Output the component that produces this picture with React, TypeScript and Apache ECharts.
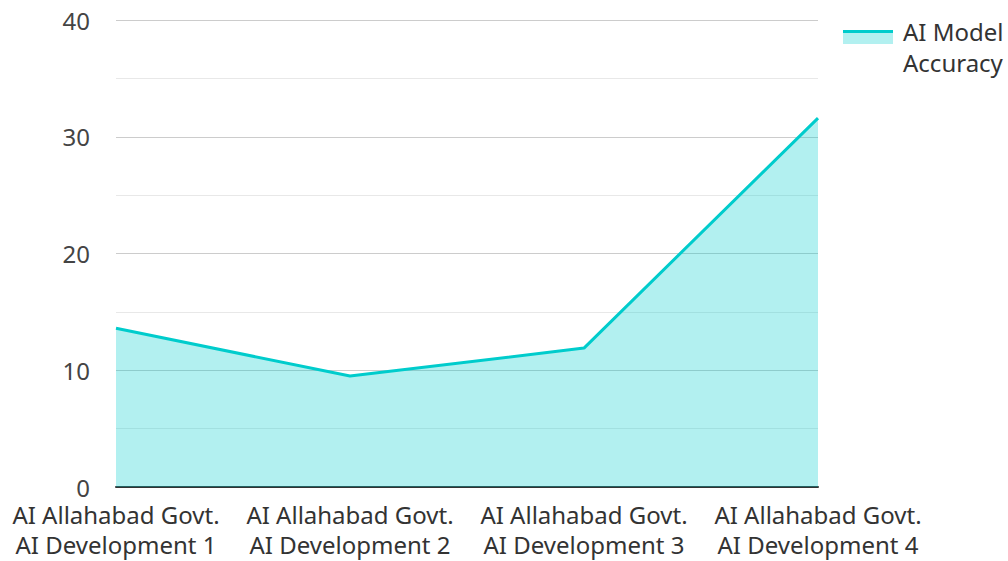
import React, { useEffect, useRef } from "react";
import * as echarts from "echarts";

const categories = [
  "AI Allahabad Govt.\nAI Development 1",
  "AI Allahabad Govt.\nAI Development 2",
  "AI Allahabad Govt.\nAI Development 3",
  "AI Allahabad Govt.\nAI Development 4",
];
const accuracy = [13.6, 9.5, 11.9, 31.6];
const seriesName = "AI Model\nAccuracy";

const FONT = "'Noto Sans', 'Open Sans', sans-serif";

export default function App() {
  const ref = useRef<HTMLDivElement>(null);
  useEffect(() => {
    if (!ref.current) return;
    const chart = echarts.init(ref.current, undefined, { renderer: "svg" });
    chart.setOption({
      animation: false,
      grid: { left: 116, right: 190, top: 20, bottom: 74 },
      xAxis: {
        type: "category",
        data: categories,
        boundaryGap: false,
        axisLine: { lineStyle: { color: "#333", width: 2 } },
        axisTick: { show: false },
        axisLabel: {
          color: "#333",
          fontSize: 24,
          fontFamily: FONT,
          lineHeight: 29.5,
          margin: 13,
          interval: 0,
        },
      },
      yAxis: {
        type: "value",
        min: 0,
        max: 40,
        interval: 10,
        axisLine: { show: false },
        axisTick: { show: false },
        axisLabel: { color: "#444", fontSize: 24, fontFamily: FONT, margin: 26, lineHeight: 22 },
        splitLine: { lineStyle: { color: "#cccccc", width: 1 } },
        minorTick: { show: false, splitNumber: 2 },
        minorSplitLine: { show: true, lineStyle: { color: "#e8e8e8", width: 1 } },
      },
      series: [
        {
          type: "line",
          name: seriesName,
          data: accuracy,
          symbol: "none",
          lineStyle: { color: "#00cccc", width: 3 },
          areaStyle: { color: "#00cccc", opacity: 0.3 },
          z: 3,
        },
      ],
      graphic: [
        {
          type: "rect",
          shape: { x: 843, y: 31, width: 50, height: 13 },
          style: { fill: "#b2f0f0" },
        },
        {
          type: "line",
          shape: { x1: 843, y1: 31.5, x2: 893, y2: 31.5 },
          style: { stroke: "#00cccc", lineWidth: 3 },
        },
        {
          type: "text",
          x: 903,
          y: 15.5,
          style: {
            text: seriesName,
            fill: "#333",
            font: `24px ${FONT}`,
            lineHeight: 31,
          },
        },
      ],
    });
    return () => chart.dispose();
  }, []);
  return <div ref={ref} style={{ width: 1008, height: 561, position: "absolute", left: 0, top: 0 }} />;
}
